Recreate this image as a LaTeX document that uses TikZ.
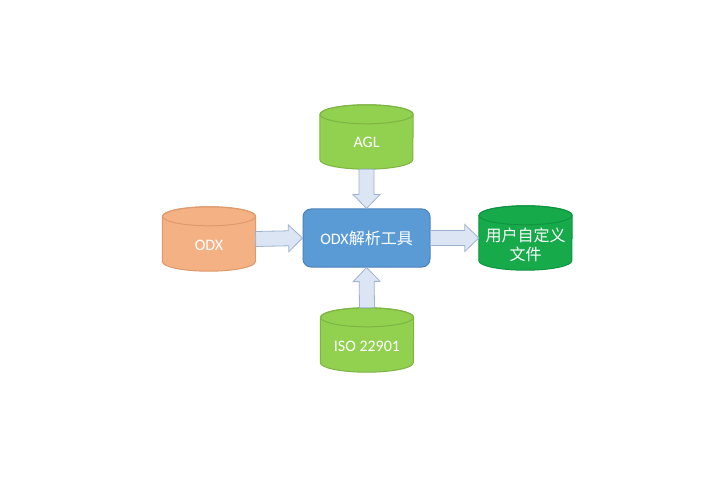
\documentclass[tikz,border=0pt]{standalone}
\usepackage{fontspec}
\setmainfont{Carlito}
\newfontfamily\cjk{Noto Sans CJK SC}
\usetikzlibrary{calc,backgrounds}

\definecolor{lgreen}{HTML}{92D050}
\definecolor{lgreenline}{HTML}{7DB443}
\definecolor{dgreen}{HTML}{17AA4A}
\definecolor{dgreenline}{HTML}{0E9440}
\definecolor{orangefill}{HTML}{F4B183}
\definecolor{orangeline}{HTML}{DE9A6C}
\definecolor{toolfill}{HTML}{5B9BD5}
\definecolor{toolline}{HTML}{4A82BA}
\definecolor{arrowfill}{HTML}{DCE5F4}
\definecolor{arrowline}{HTML}{9FB2CF}

\begin{document}
\begin{tikzpicture}[x=1pt, y=1pt, font=\fontsize{16}{19}\selectfont, text=white]

    % Styles
    \tikzstyle{db} = [rectangle, minimum width=93pt, minimum height=64pt, inner sep=0pt, text height=25pt, text depth=3pt, align=center]
    \tikzstyle{dbline} = [line width=1pt]
    \tikzstyle{tool} = [rectangle, rounded corners=8pt, draw=toolline, fill=toolfill, line width=1pt, minimum width=127pt, minimum height=58pt]
    \tikzstyle{fat} = [draw=arrowline, fill=arrowfill, line width=0.8pt, line join=miter]

    \useasboundingbox (0,0) rectangle (720,480);

    % Nodes
    \node[tool] (tool) at (366.5,242) {ODX{\cjk 解析工具}};
    \node[db] (agl) at (366.5,343) {AGL};
    \node[db] (odx) at (209,241) {ODX};
    \node[db, text height=47pt] (user) at (525.5,242) {\cjk 用户自定义\\\cjk 文件};
    \node[db] (iso) at (367,140) {ISO 22901};

    % Cylinders behind the texts
    \begin{scope}[on background layer]
    \foreach \n/\f/\d in {agl/lgreen/lgreenline, odx/orangefill/orangeline, user/dgreen/dgreenline, iso/lgreen/lgreenline}
    {
        \draw[dbline, draw=\d, fill=\f] ($(\n.north west)+(0,-9.5)$) -- ($(\n.south west)+(0,9.5)$)
            arc[start angle=180, end angle=360, x radius=46.5, y radius=9.5]
            -- ($(\n.north east)+(0,-9.5)$)
            arc[start angle=0, end angle=180, x radius=46.5, y radius=9.5] -- cycle;
        \draw[dbline, draw=\d] ($(\n.north)+(0,-9.5)$) ellipse [x radius=46.5, y radius=9.5];
    }
    \end{scope}

    % Block arrows
    \foreach \a/\b in {agl.south/tool.north, odx.east/tool.west, iso.north/tool.south, tool.east/user.west}
        \path[fat] let \p1 = (\a), \p2 = (\b) in
            coordinate (s) at (\p1) coordinate (t) at (\p2)
            coordinate (h) at ($(t)!14pt!(s)$)
            ($(s)!7.5pt!90:(t)$) -- ($(h)!7.5pt!-90:(s)$) -- ($(h)!13.5pt!-90:(s)$) -- (t)
            -- ($(h)!13.5pt!90:(s)$) -- ($(h)!7.5pt!90:(s)$) -- ($(s)!7.5pt!-90:(t)$) -- cycle;

\end{tikzpicture}
\end{document}
